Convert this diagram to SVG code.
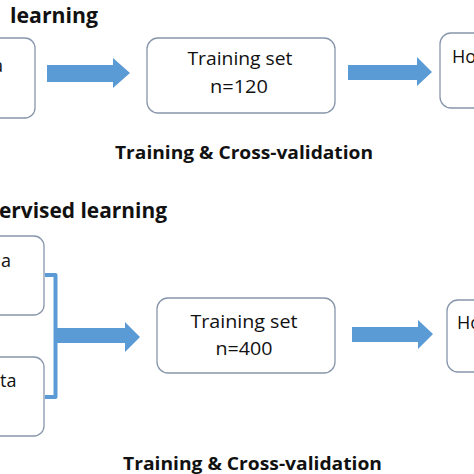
<svg xmlns="http://www.w3.org/2000/svg" width="474" height="474" viewBox="0 0 474 474">
<style>
.box{fill:#fff;stroke:#8796ab;stroke-width:1.3}
.arr{fill:#5b9bd5}
.t{font-family:"Open Sans","Liberation Sans",Arial,sans-serif;font-size:18px;fill:#111}
.h{font-family:"Open Sans","Liberation Sans",Arial,sans-serif;font-size:21px;font-weight:bold;fill:#111}
.s{font-family:"Open Sans","Liberation Sans",Arial,sans-serif;font-size:17px;font-weight:bold;fill:#111}
</style>
<rect width="474" height="474" fill="#fff"/>
<text class="h" x="10" y="23" textLength="88" lengthAdjust="spacingAndGlyphs">learning</text>
<text class="h" x="-1" y="218" textLength="168" lengthAdjust="spacingAndGlyphs">ervised learning</text>
<text class="s" x="115" y="159" textLength="258" lengthAdjust="spacingAndGlyphs">Training &amp; Cross-validation</text>
<text class="s" x="123" y="470" textLength="259" lengthAdjust="spacingAndGlyphs">Training &amp; Cross-validation</text>

<g id="top-input">
<rect class="box" x="-20" y="38" width="55" height="80" rx="10"/>
<text class="t" x="3" y="72" text-anchor="end">a</text>
</g>
<g id="top-training">
<rect class="box" x="147" y="38" width="188" height="75" rx="11"/>
<text class="t" x="240" y="65" text-anchor="middle" textLength="105" lengthAdjust="spacingAndGlyphs">Training set</text>
<text class="t" x="239" y="93" text-anchor="middle" textLength="58" lengthAdjust="spacingAndGlyphs">n=120</text>
</g>
<g id="top-holdout">
<rect class="box" x="440" y="33" width="60" height="75" rx="11"/>
<text class="t" x="452" y="63">Ho</text>
</g>

<g id="bottom-input-a">
<rect class="box" x="-20" y="236" width="64" height="79" rx="10"/>
<text class="t" x="1" y="267">a</text>
</g>
<g id="bottom-input-b">
<rect class="box" x="-20" y="357" width="64" height="79" rx="10"/>
<text class="t" x="0" y="387">ta</text>
</g>
<g id="bottom-training">
<rect class="box" x="157" y="298" width="178" height="75" rx="11"/>
<text class="t" x="244" y="328" text-anchor="middle" textLength="107" lengthAdjust="spacingAndGlyphs">Training set</text>
<text class="t" x="244" y="355" text-anchor="middle" textLength="57" lengthAdjust="spacingAndGlyphs">n=400</text>
</g>
<g id="bottom-holdout">
<rect class="box" x="447" y="300" width="60" height="72" rx="11"/>
<text class="t" x="457" y="329">Ho</text>
</g>

<g id="connectors">
<polygon class="arr" points="47,65 113,65 113,58 130,73 113,88 113,82 47,82"/>
<polygon class="arr" points="348,65 417,65 417,57 432,72 417,86 417,80 348,80"/>
<path d="M45,275 H55.5 V397 H45" fill="none" stroke="#5b9bd5" stroke-width="4" stroke-linejoin="round"/>
<polygon class="arr" points="55,328 125,328 125,322 140,337 125,352 125,343 55,343"/>
<polygon class="arr" points="352,327 418,327 418,320 433,334 418,349 418,342 352,342"/>
</g>
</svg>
